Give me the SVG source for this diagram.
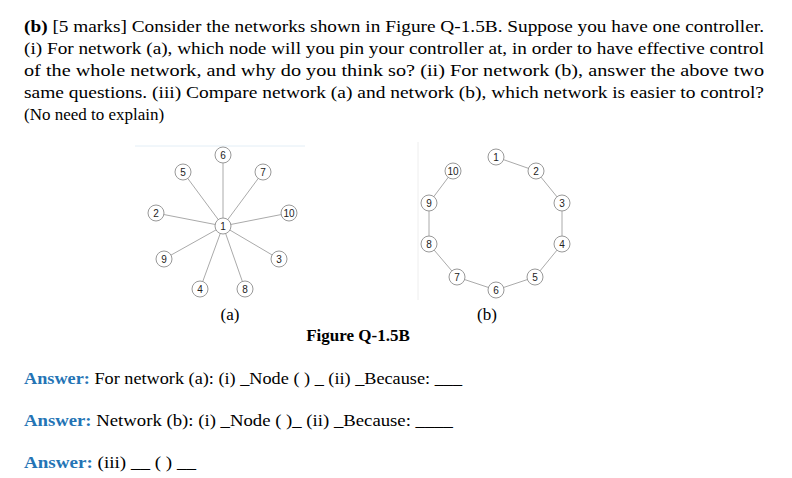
<svg xmlns="http://www.w3.org/2000/svg" width="792" height="478" viewBox="0 0 792 478">
<style>
.t{font-family:"Liberation Serif",serif;font-size:17px;fill:#000}
.b{font-weight:bold}
.a{font-weight:bold;fill:#2474b5}
.n circle{fill:#fff;stroke:#999;stroke-width:1}
.n text{font-family:"Liberation Sans",sans-serif;font-size:10px;text-anchor:middle;fill:#222}
#edges line{stroke:#aaa;stroke-width:1}
</style>
<rect width="792" height="478" fill="#fff"/>
<g id="question">
<text class="t" x="24" y="32" textLength="740" lengthAdjust="spacingAndGlyphs"><tspan class="b">(b)</tspan> [5 marks] Consider the networks shown in Figure Q-1.5B. Suppose you have one controller.</text>
<text class="t" x="24" y="54" textLength="740" lengthAdjust="spacingAndGlyphs">(i) For network (a), which node will you pin your controller at, in order to have effective control</text>
<text class="t" x="24" y="76" textLength="740" lengthAdjust="spacingAndGlyphs">of the whole network, and why do you think so? (ii) For network (b), answer the above two</text>
<text class="t" x="24" y="98" textLength="740" lengthAdjust="spacingAndGlyphs">same questions. (iii) Compare network (a) and network (b), which network is easier to control?</text>
<text class="t" x="24" y="120">(No need to explain)</text>
</g>
<line x1="135" y1="146" x2="305" y2="146" stroke="#e3eef6" stroke-width="1"/>
<line x1="418" y1="142" x2="418" y2="300" stroke="#eee" stroke-width="1"/>
<g id="edges">
<line x1="223" y1="226" x2="223" y2="155"/>
<line x1="223" y1="226" x2="183" y2="172"/>
<line x1="223" y1="226" x2="263" y2="172"/>
<line x1="223" y1="226" x2="156" y2="213"/>
<line x1="223" y1="226" x2="289" y2="213"/>
<line x1="223" y1="226" x2="164" y2="259"/>
<line x1="223" y1="226" x2="279" y2="259"/>
<line x1="223" y1="226" x2="200" y2="289"/>
<line x1="223" y1="226" x2="245" y2="289"/>
<line x1="496" y1="157" x2="536" y2="171"/>
<line x1="536" y1="171" x2="562" y2="203"/>
<line x1="562" y1="203" x2="562" y2="244"/>
<line x1="562" y1="244" x2="535" y2="277"/>
<line x1="535" y1="277" x2="496" y2="290"/>
<line x1="496" y1="290" x2="457" y2="277"/>
<line x1="457" y1="277" x2="429" y2="244"/>
<line x1="429" y1="244" x2="429" y2="203"/>
<line x1="429" y1="203" x2="453" y2="171"/>
</g>
<g id="a1" class="n"><circle cx="223" cy="226" r="8"/><text x="223" y="229.5">1</text></g>
<g id="a2" class="n"><circle cx="156" cy="213" r="8"/><text x="156" y="216.5">2</text></g>
<g id="a3" class="n"><circle cx="279" cy="259" r="8"/><text x="279" y="262.5">3</text></g>
<g id="a4" class="n"><circle cx="200" cy="289" r="8"/><text x="200" y="292.5">4</text></g>
<g id="a5" class="n"><circle cx="183" cy="172" r="8"/><text x="183" y="175.5">5</text></g>
<g id="a6" class="n"><circle cx="223" cy="155" r="8"/><text x="223" y="158.5">6</text></g>
<g id="a7" class="n"><circle cx="263" cy="172" r="8"/><text x="263" y="175.5">7</text></g>
<g id="a8" class="n"><circle cx="245" cy="289" r="8"/><text x="245" y="292.5">8</text></g>
<g id="a9" class="n"><circle cx="164" cy="259" r="8"/><text x="164" y="262.5">9</text></g>
<g id="a10" class="n"><circle cx="289" cy="213" r="8"/><text x="289" y="216.5">10</text></g>
<g id="b1" class="n"><circle cx="496" cy="157" r="8"/><text x="496" y="160.5">1</text></g>
<g id="b2" class="n"><circle cx="536" cy="171" r="8"/><text x="536" y="174.5">2</text></g>
<g id="b3" class="n"><circle cx="562" cy="203" r="8"/><text x="562" y="206.5">3</text></g>
<g id="b4" class="n"><circle cx="562" cy="244" r="8"/><text x="562" y="247.5">4</text></g>
<g id="b5" class="n"><circle cx="535" cy="277" r="8"/><text x="535" y="280.5">5</text></g>
<g id="b6" class="n"><circle cx="496" cy="290" r="8"/><text x="496" y="293.5">6</text></g>
<g id="b7" class="n"><circle cx="457" cy="277" r="8"/><text x="457" y="280.5">7</text></g>
<g id="b8" class="n"><circle cx="429" cy="244" r="8"/><text x="429" y="247.5">8</text></g>
<g id="b9" class="n"><circle cx="429" cy="203" r="8"/><text x="429" y="206.5">9</text></g>
<g id="b10" class="n"><circle cx="453" cy="171" r="8"/><text x="453" y="174.5">10</text></g>
<g id="captions">
<text class="t" x="230" y="320" text-anchor="middle">(a)</text>
<text class="t" x="487" y="320" text-anchor="middle">(b)</text>
<text class="t b" x="358" y="341" text-anchor="middle">Figure Q-1.5B</text>
</g>
<g id="answers" xml:space="preserve">
<text class="t" x="24" y="384" textLength="438" lengthAdjust="spacingAndGlyphs"><tspan class="a">Answer:</tspan> For network (a): (i) _Node (   ) _ (ii) _Because: ___</text>
<text class="t" x="24" y="426" textLength="429" lengthAdjust="spacingAndGlyphs"><tspan class="a">Answer:</tspan> Network (b): (i) _Node (   )_ (ii) _Because: ____</text>
<text class="t" x="24" y="468" textLength="172" lengthAdjust="spacingAndGlyphs"><tspan class="a">Answer:</tspan> (iii) __ (   ) __</text>
</g>
</svg>
